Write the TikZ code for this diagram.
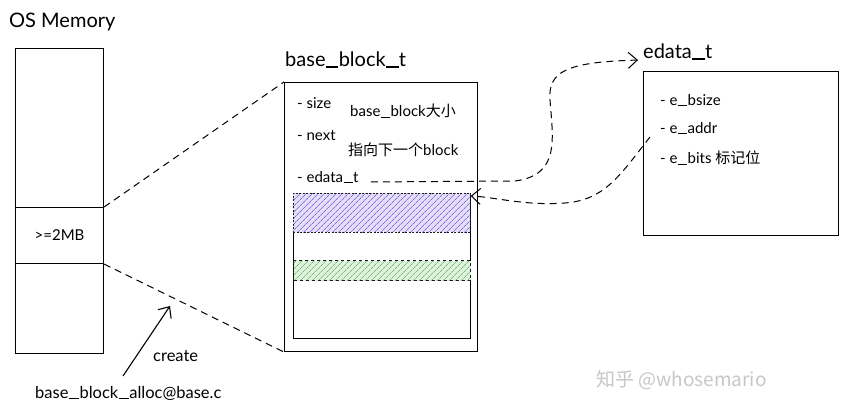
\documentclass[tikz,border=0pt]{standalone}
\usepackage{fontspec}
\setmainfont{Lato}
\newfontfamily\cjk{Noto Sans CJK SC}
\usetikzlibrary{arrows.meta,patterns.meta}
\definecolor{purplebg}{RGB}{228,222,250}
\definecolor{purpleline}{RGB}{130,110,215}
\definecolor{greenbg}{RGB}{222,242,222}
\definecolor{greenline}{RGB}{120,190,120}
\newcommand{\us}{\kern0.4pt\rule[-1pt]{0.62em}{0.075em}\kern0.4pt}
\tikzset{
 sk/.style={draw=black, line width=1.1pt},
 box/.style={sk, inner sep=0pt, anchor=north west},
 title/.style={anchor=west, inner sep=0pt, font=\fontsize{20}{20}\selectfont},
 item/.style={anchor=west, inner sep=0pt, font=\fontsize{15}{15}\selectfont},
 note/.style={anchor=west, inner sep=0pt, font=\fontsize{16.5}{16.5}\selectfont},
 dconn/.style={line width=1pt, dash pattern=on 7pt off 5pt},
 arr/.style={-{Straight Barb[length=9pt,width=16pt]}},
 hatch/.style={pattern={Lines[angle=45,distance=4pt,line width=0.7pt]}, pattern color=#1},
}
\begin{document}
\begin{tikzpicture}[x=1pt,y=-1pt]
\useasboundingbox[fill=white] (0,0) rectangle (849,414);
% OS memory
\node[title] (ostitle) at (9,22) {OS Memory};
\node[box, minimum width=88pt, minimum height=305pt] (os) at (15,48) {};
\node[box, minimum width=88pt, minimum height=56pt, font=\fontsize{15}{15}\selectfont] (seg) at (15,207) {>=2MB};
% base_block_t
\node[title] (bbtitle) at (285,60) {base\us block\us t};
\node[box, minimum width=193pt, minimum height=269pt] (bb) at (284,82) {};
\node[box, minimum width=177pt, minimum height=145pt] (inner) at (293,193) {};
\node[box, draw=black!90, dash pattern=on 2pt off 1.5pt, minimum width=177pt, minimum height=39pt,
  preaction={fill=purplebg}, hatch=purpleline] (pur) at (293,193) {};
\node[box, draw=black!90, dashed, minimum width=177pt, minimum height=20pt,
  preaction={fill=greenbg}, hatch=greenline] (grn) at (293,260) {};
\node[item] (isize) at (297,103) {- size};
\node[item] (dsize) at (350,111) {base\us block{\cjk 大小}};
\node[item] (inext) at (297,136) {- next};
\node[item] (dnext) at (348,150) {{\cjk 指向下一个}block};
\node[item] (iedata) at (297,177) {- edata\us t};
% edata_t
\node[title] (edtitle) at (643,52) {edata\us t};
\node[box, minimum width=195pt, minimum height=164pt] (ed) at (643,71) {};
\node[item] (ebsize) at (660,100) {- e\us bsize};
\node[item] (eaddr) at (660,128) {- e\us addr};
\node[item] (ebits) at (660,158) {- e\us bits {\cjk 标记位}};
% connectors
\draw[dconn] (seg.north east) -- (bb.north west);
\draw[dconn] (seg.south east) -- (bb.south west);
\draw[dconn, arr] ([xshift=12pt,yshift=-5pt]iedata.east) -- (515,181) .. controls (560,175) and (553,140) .. (550,100) .. controls (548,72) and (565,62) .. ([xshift=-5pt]edtitle.south west);
\coordinate (c2s) at (650,137);
\draw[dconn, arr] (c2s) .. controls (620,175) and (605,200) .. (565,203) .. controls (525,206) and (495,197) .. ([yshift=-3pt]pur.north east);
% create
\node[note] (alloc) at (35,393) {base\us block\us alloc@base.c};
\node[note] (create) at (153,356) {create};
\coordinate (cs) at (123,376);
\coordinate (ce) at (170,306);
\draw[sk, arr] (cs) -- (ce);
% watermark
\node[anchor=west, inner sep=0pt, text=black!22, font=\cjk\fontsize{19}{19}\selectfont] (wm) at (596,380) {知乎 @whosemario};
\end{tikzpicture}
\end{document}
